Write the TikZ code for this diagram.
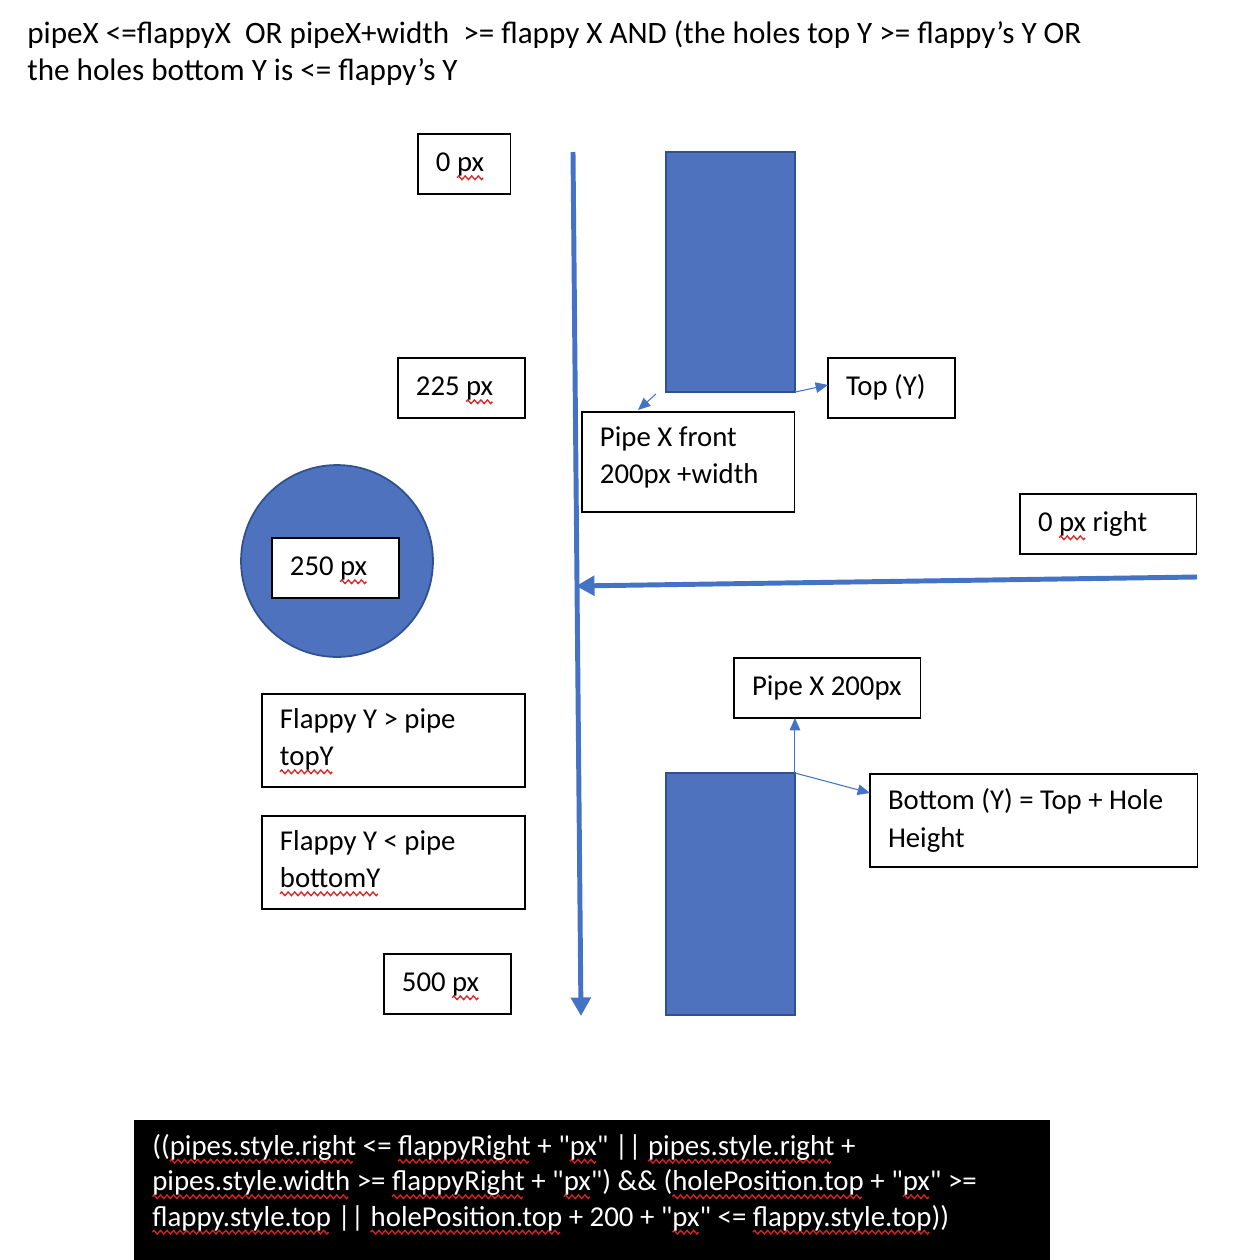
\documentclass[tikz,border=0pt]{standalone}
\usepackage{fontspec}
\setmainfont{Carlito}
\newfontfamily\codefont[Ligatures=TeXOff]{Carlito}
\usetikzlibrary{arrows.meta}
\definecolor{pipeblue}{RGB}{79,114,190}
\definecolor{pipeedge}{RGB}{47,82,143}
\definecolor{lineblue}{RGB}{68,114,196}
\definecolor{squigred}{RGB}{220,35,35}
\newsavebox\wavebox
\newsavebox\sqwbox
\newcommand\sqw[1]{\leavevmode\sbox\sqwbox{#1}\rlap{\raisebox{-4.5pt}{\hbox to \wd\sqwbox{\leaders\copy\wavebox\hfil}}}\usebox\sqwbox}
\begin{document}
\sbox\wavebox{\begin{pgfpicture}%
 \pgfsetlinewidth{0.75pt}\pgfsetstrokecolor{squigred}%
 \pgfpathmoveto{\pgfpoint{0pt}{0pt}}%
 \pgfpathsine{\pgfpoint{0.925pt}{1.05pt}}%
 \pgfpathcosine{\pgfpoint{0.925pt}{-1.05pt}}%
 \pgfpathsine{\pgfpoint{0.925pt}{-1.05pt}}%
 \pgfpathcosine{\pgfpoint{0.925pt}{1.05pt}}%
 \pgfusepath{stroke}%
 \pgfresetboundingbox
 \pgfpathrectangle{\pgfpoint{0pt}{-1.2pt}}{\pgfpoint{3.7pt}{2.4pt}}%
 \pgfusepath{use as bounding box}%
\end{pgfpicture}}%
\begin{tikzpicture}[x=0.5669pt,y=-0.5669pt,
  bx/.style={draw=black,line width=0.6pt,fill=white,align=left,inner xsep=10.2pt,inner ysep=0pt,outer sep=0pt,anchor=north west,font=\fontsize{16.3}{21}\selectfont,execute at begin node={\spaceskip=0pt\xspaceskip=0pt\relax}},
  one/.style={bx,text height=21.5pt,text depth=12.5pt,minimum height=34pt},
  two/.style={bx,text height=19.8pt,text depth=32.9pt,minimum height=52.7pt},
  pipe/.style={fill=pipeblue,draw=pipeedge,line width=1pt,inner sep=0pt,outer sep=0pt,anchor=north west,minimum width=73.1pt},
  thick arrow/.style={draw=lineblue,line width=2.8pt,-{Triangle[length=10.5pt,width=11pt]}},
  thin arrow/.style={draw=lineblue,line width=0.6pt,-{Triangle[length=7pt,width=6pt]}}]
\useasboundingbox (0,0) rectangle (1250,1260);
\node[anchor=north west,inner sep=0pt,align=left,font=\fontsize{17.65}{21}\selectfont] (title) at (27,20) {pipeX <=flappyX\ \ OR pipeX+width\ \ >= flappy X AND (the holes top Y >= flappy’s Y OR\\the holes bottom Y is <= flappy’s Y};
% pipes and bird
\node[pipe,minimum height=136.1pt] (toppipe) at (666,152) {};
\node[pipe,minimum height=137.2pt] (botpipe) at (666,773) {};
\node[circle,fill=pipeblue,draw=pipeedge,line width=1pt,minimum size=108.8pt,inner sep=0pt] (flappy) at (337,561) {};
% axes
\coordinate (vtop) at (573,152);
\coordinate (vbot) at (581,1016);
\draw[thick arrow] (vtop) -- (vbot);
\coordinate (hstart) at (1197,577);
\coordinate (hend) at (576,586);
\draw[thick arrow] (hstart) -- (hend);
% boxes
\node[one,text width=32.3pt] (b0) at (418,134) {0 \sqw{px}};
\node[one,text width=51.6pt] (b225) at (398,358) {225 \sqw{px}};
\node[one,text width=51.6pt] (b250) at (272,538) {250 \sqw{px}};
\node[two,text width=128.7pt] (fgt) at (262,694) {Flappy Y > pipe\\\sqw{topY}};
\node[two,text width=128.7pt] (flt) at (262,816) {Flappy Y < pipe\\\sqw{bottomY}};
\node[one,text width=51.6pt] (b500) at (384,954) {500 \sqw{px}};
\node[one,text width=51.6pt] (topy) at (828,358) {Top (Y)};
\node[two,text width=100.3pt,text height=19.3pt,text depth=37.4pt,minimum height=56.7pt] (front) at (582,412) {Pipe X front\\200px +width};
\node[one,text width=79.9pt] (right) at (1020,494) {0 \sqw{px} right};
\node[one,text width=85.5pt] (pipex) at (734,658) {Pipe X 200px};
\node[two,text width=165pt,text height=20.4pt,text depth=32.3pt] (bottom) at (870,774) {Bottom (Y) = Top + Hole\\Height};
% thin arrows
\draw[thin arrow] (toppipe.south east) -- ([yshift=1.7pt]topy.west);
\coordinate (fa) at (656,394);
\coordinate (fb) at (638,410);
\draw[thin arrow] (fa) -- (fb);
\draw[thin arrow] (botpipe.north east) -- (botpipe.north east |- pipex.south);
\draw[thin arrow] (botpipe.north east) -- ([yshift=15.6pt]bottom.west);
% code
\node[fill=black,inner sep=0pt,outer sep=0pt,minimum width=519.3pt,minimum height=79.4pt,anchor=north west] (codebg) at (134,1120) {};
\node[anchor=north west,inner sep=0pt,align=left,text=white,font={\fontsize{16.35}{20.1}\codefont}] (code) at (152,1134) {((\sqw{pipes.style.right} <= \sqw{flappyRight} + "\sqw{px}" || \sqw{pipes.style.right} +\\
\sqw{pipes.style.width} >= \sqw{flappyRight} + "\sqw{px}") \&\& (\sqw{holePosition.top} + "\sqw{px}" >=\\
\sqw{flappy.style.top} || \sqw{holePosition.top} + 200 + "\sqw{px}" <= \sqw{flappy.style.top}))};
\end{tikzpicture}
\end{document}
